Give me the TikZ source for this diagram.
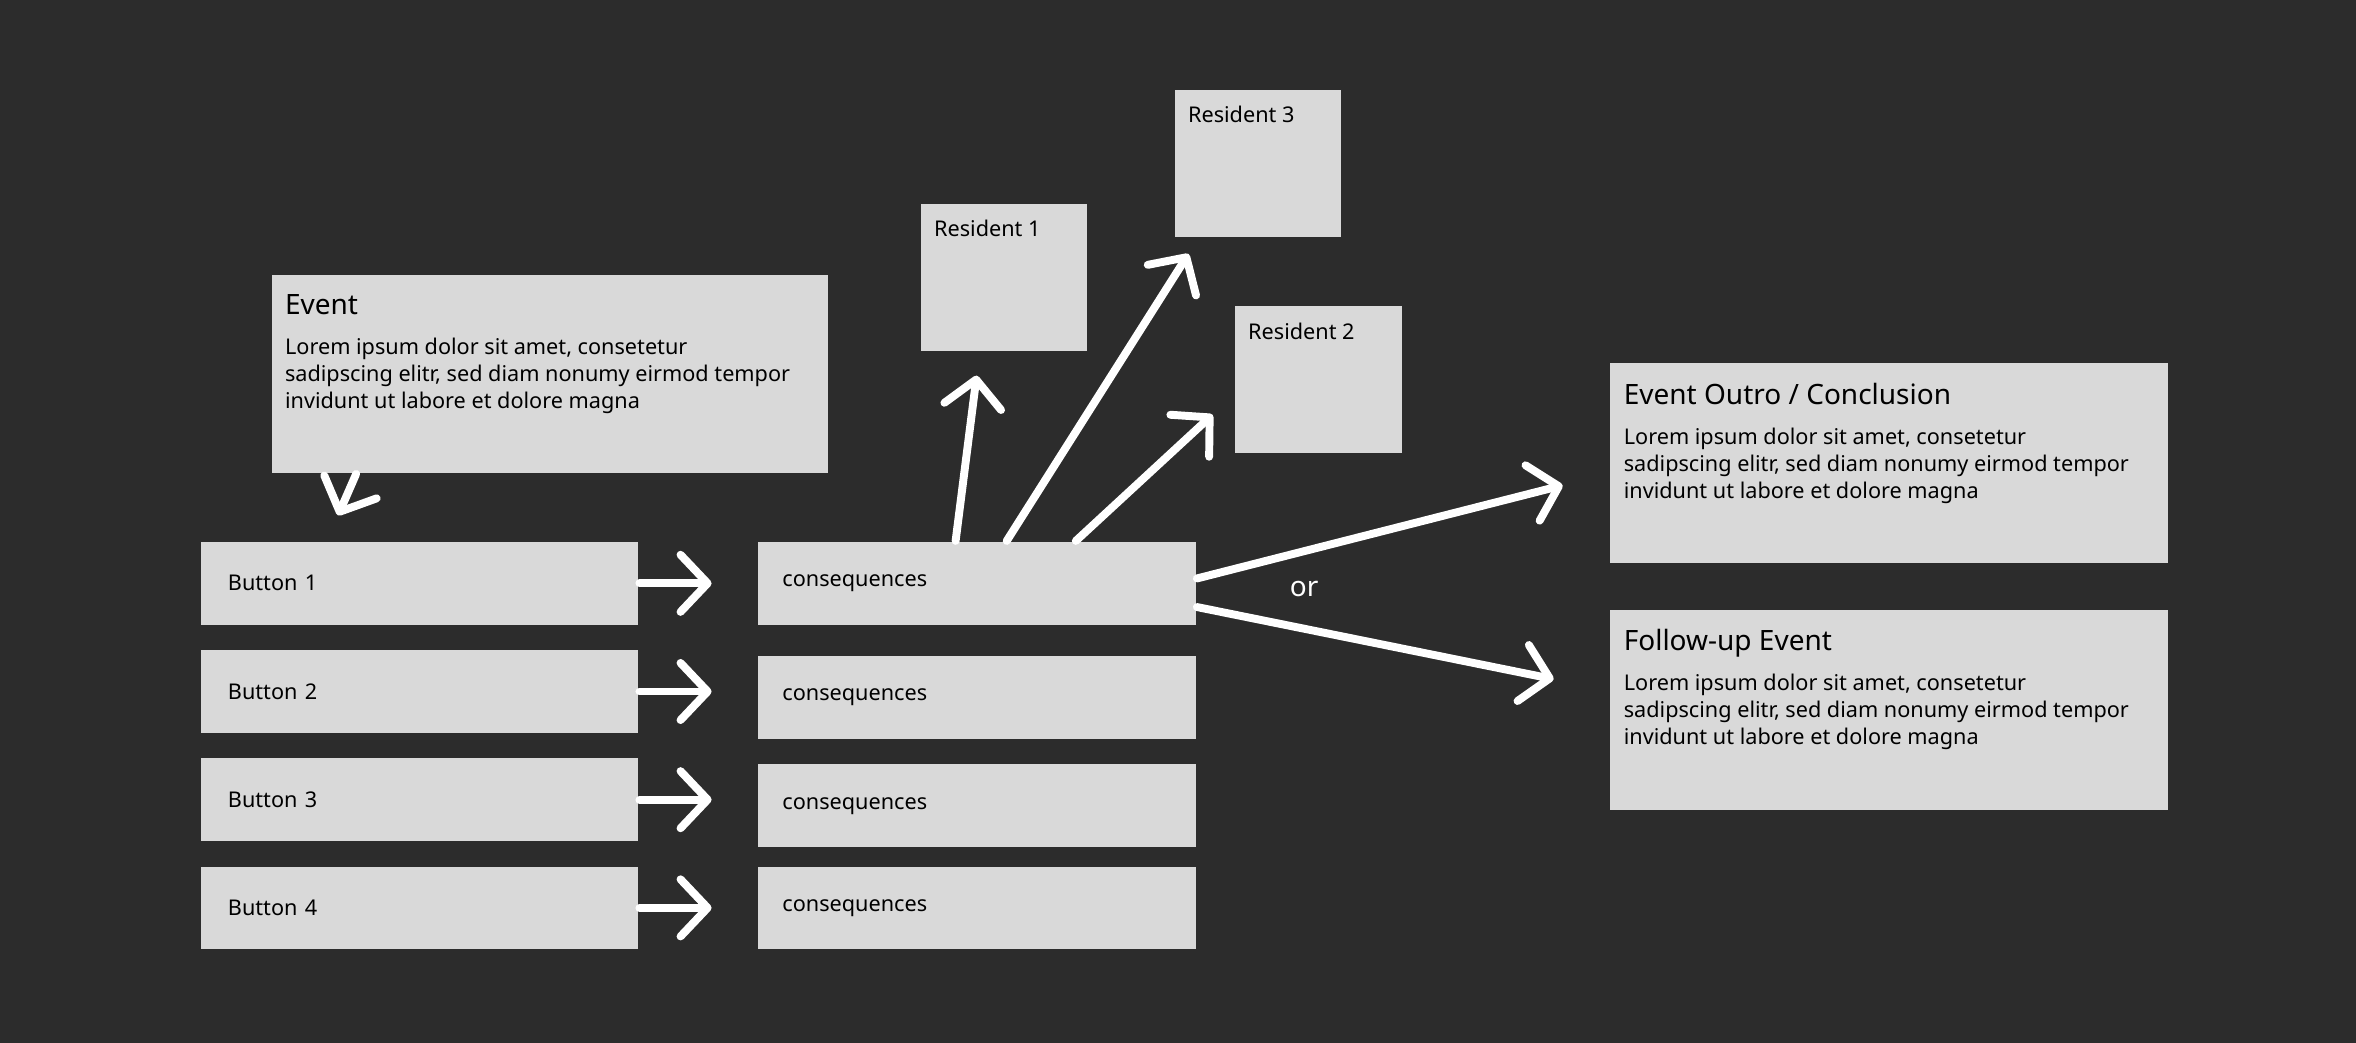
\documentclass[tikz,border=0pt]{standalone}
\usepackage{fontspec}
\setmainfont{Noto Sans}
\usetikzlibrary{positioning}
\usetikzlibrary{calc}
\usetikzlibrary{arrows.meta}
\definecolor{bg}{HTML}{2C2C2C}
\definecolor{boxgray}{HTML}{D9D9D9}
\tikzset{
  box/.style={fill=boxgray, draw=none, anchor=north west, inner sep=0pt},
  btn/.style={box, minimum width=2.91cm, minimum height=0.55cm, text width=2.55cm,
    inner xsep=0.18cm, align=left, font=\fontsize{4.1}{5}\selectfont},
  cons/.style={btn, text width=2.59cm, inner xsep=0.16cm},
  res/.style={box, minimum width=1.11cm, minimum height=0.98cm},
  big/.style={box, minimum width=3.71cm, minimum height=1.33cm},
  lbl/.style={anchor=north west, inner sep=0pt, align=left, font=\fontsize{4.1}{5.1}\selectfont},
  arrow/.style={draw=white, line width=1.5pt, line cap=round,
    -{Straight Barb[length=0.18cm,width=0.38cm,round]}},
}
\begin{document}
\begin{tikzpicture}[x=0.01cm,y=-0.01cm]
\fill[bg] (0,0) rectangle (1568,694);

% boxes
\node[box, minimum width=3.70cm, minimum height=1.32cm](ev) at (180,182){};
\node[res](r1) at (612,135){};
\node[res](r3) at (781,59){};
\node[res](r2) at (821,203){};
\node[big](out) at (1071,241){};
\node[big](fol) at (1071,405){};

\node[btn](b1) at (133,360){Button 1};
\node[btn](b2) at (133,432){Button 2};
\node[btn](b3) at (133,504){Button 3};
\node[btn](b4) at (133,576){Button 4};
\node[cons](c1) at (504,360){consequences};
\node[cons](c2) at (504,436){consequences};
\node[cons](c3) at (504,508){consequences};
\node[cons](c4) at (504,576){consequences};

% texts
\node[lbl](evt) at ([shift={(0.09cm,-0.13cm)}]ev.north west){{\fontsize{5.3}{6}\selectfont\bfseries Event}\\[0.9mm]
Lorem ipsum dolor sit amet, consetetur\\ sadipscing elitr, sed diam nonumy eirmod tempor\\ invidunt ut labore et dolore magna};
\node[lbl](outt) at ([shift={(0.09cm,-0.13cm)}]out.north west){{\fontsize{5.3}{6}\selectfont\bfseries Event Outro / Conclusion}\\[0.9mm]
Lorem ipsum dolor sit amet, consetetur\\ sadipscing elitr, sed diam nonumy eirmod tempor\\ invidunt ut labore et dolore magna};
\node[lbl](folt) at ([shift={(0.09cm,-0.13cm)}]fol.north west){{\fontsize{5.3}{6}\selectfont\bfseries Follow-up Event}\\[0.9mm]
Lorem ipsum dolor sit amet, consetetur\\ sadipscing elitr, sed diam nonumy eirmod tempor\\ invidunt ut labore et dolore magna};
\node[lbl](r1t) at ([shift={(0.09cm,-0.11cm)}]r1.north west){Resident 1};
\node[lbl](r3t) at ([shift={(0.09cm,-0.11cm)}]r3.north west){Resident 3};
\node[lbl](r2t) at ([shift={(0.09cm,-0.11cm)}]r2.north west){Resident 2};
\node[text=white, font=\fontsize{5.3}{6}\selectfont\bfseries](or) at (868,392){or};

% arrow ends
\coordinate(evend) at (225,343);
\coordinate(r1end) at (650,250);
\coordinate(r3end) at (791,169);
\coordinate(r2end) at (807,276);
\coordinate(outend) at (1040,323);
\coordinate(folend) at (1034,452);

\path
(ev.south west) ++(57,0) coordinate(evstart)
(c1.north west) ++(132,0) coordinate(c1a)
(c1.north west) ++(166,0) coordinate(c1b)
(c1.north west) ++(212,0) coordinate(c1c)
(c1.north east) ++(0,25) coordinate(c1d)
(c1.north east) ++(0,44) coordinate(c1e);

\draw[arrow] (evstart) -- (evend);
\draw[arrow] (b1.east) -- ++(48,0);
\draw[arrow] (b2.east) -- ++(48,0);
\draw[arrow] (b3.east) -- ++(48,0);
\draw[arrow] (b4.east) -- ++(48,0);
\draw[arrow] (c1a) -- (r1end);
\draw[arrow] (c1b) -- (r3end);
\draw[arrow] (c1c) -- (r2end);
\draw[arrow] (c1d) -- (outend);
\draw[arrow] (c1e) -- (folend);
\end{tikzpicture}
\end{document}
